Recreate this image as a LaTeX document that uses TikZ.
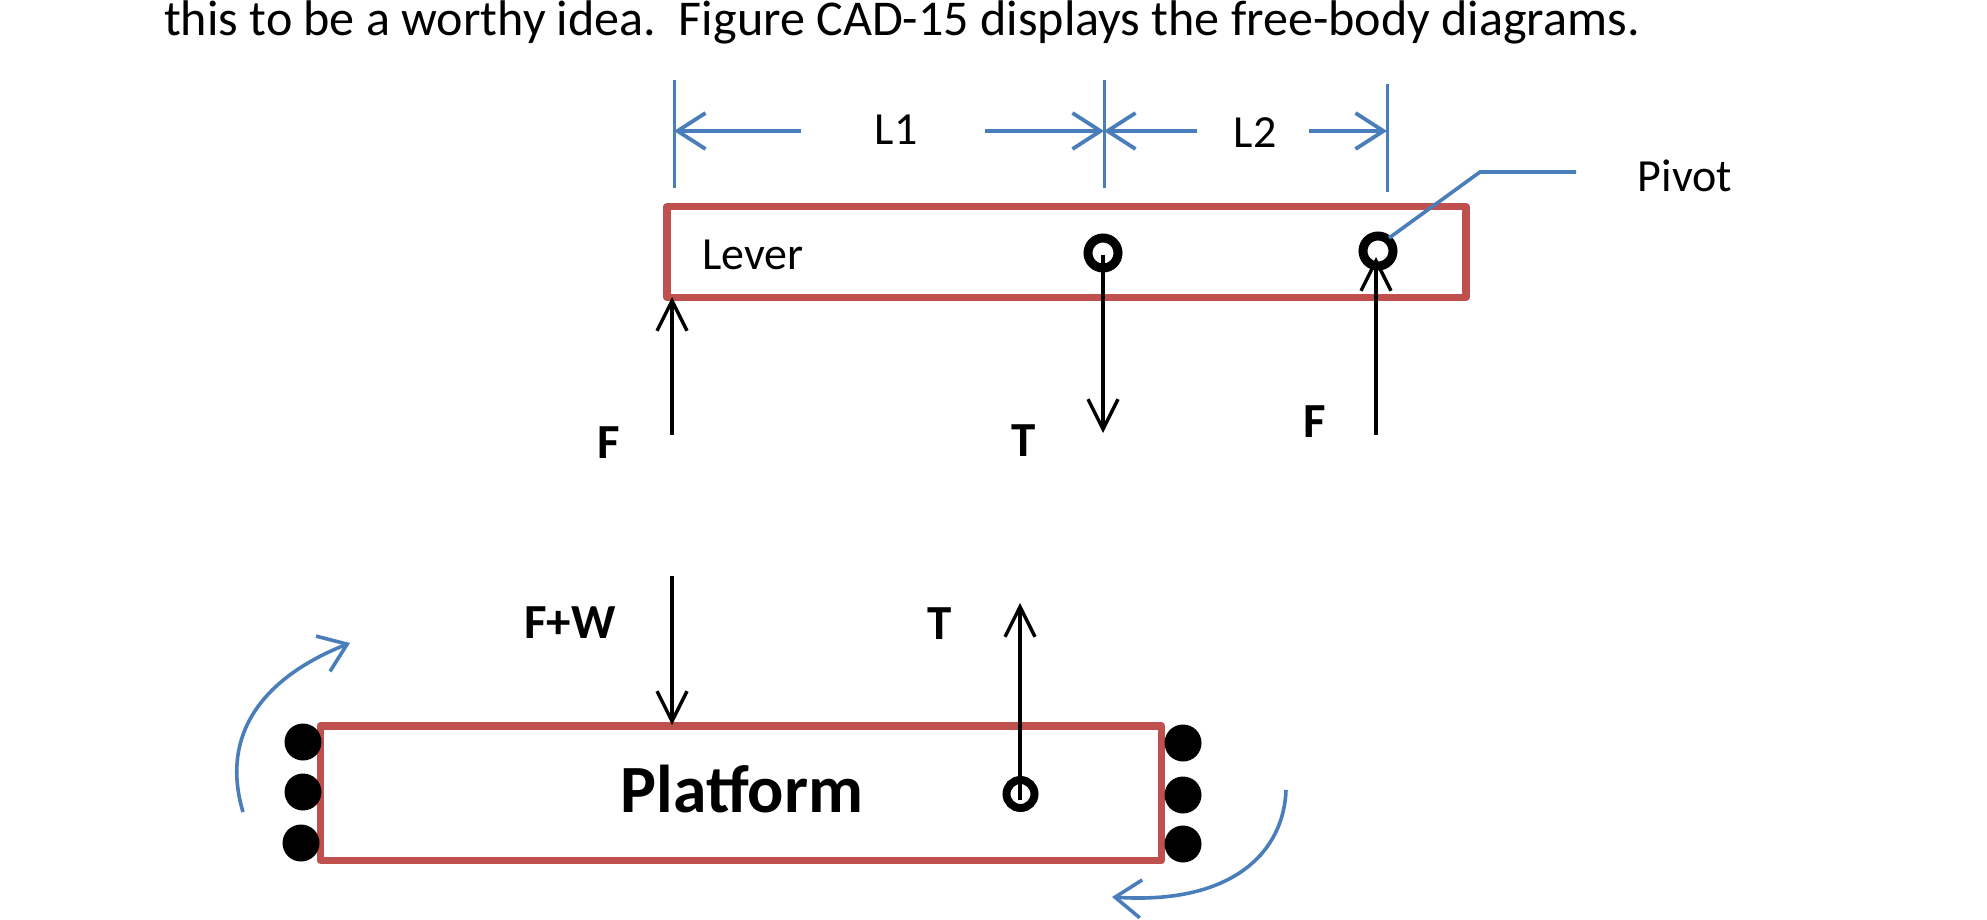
\documentclass[tikz,border=0pt]{standalone}
\usepackage{fontspec}
\setmainfont{Carlito}
\usetikzlibrary{arrows.meta}
\definecolor{barred}{HTML}{C0504D}
\definecolor{dimblue}{HTML}{4A7EBB}
\begin{document}
\begin{tikzpicture}[x=1pt,y=-1pt]
\tikzstyle{barra} = [draw=barred,line width=7.5pt,line join=round,inner sep=0pt]
\tikzstyle{freccia} = [black,line width=3.2pt,-{Straight Barb[length=30pt,width=30pt,line width=3.4pt]}]
\tikzstyle{quota} = [dimblue,line width=4.5pt,-{Straight Barb[length=28pt,width=36pt,line width=3.8pt]}]
\tikzstyle{giro} = [dimblue,line width=3.6pt,-{Straight Barb[length=26pt,width=38pt,line width=3.6pt]}]
\tikzstyle{guida} = [dimblue,line width=3pt]
\tikzstyle{perno} = [circle,draw=black,line width=9pt,inner sep=0pt,minimum size=30pt]
\tikzstyle{rullo} = [circle,fill=black,inner sep=0pt,minimum size=37pt]
\tikzstyle{forza} = [font=\bfseries\fontsize{49}{58}\selectfont,inner sep=0pt]
\tikzstyle{testo} = [font=\fontsize{46}{55}\selectfont,inner sep=0pt]
\useasboundingbox (0,0) rectangle (1987,920);
\node[testo,anchor=base west,font=\fontsize{50.1}{60}\selectfont] (intro) at (164,36) {this to be a worthy idea.\ \ Figure CAD-15 displays the free-body diagrams.};
% the two bars
\node[barra,minimum width=799pt,minimum height=90.5pt] (lever) at (1066.5,252) {};
\node[barra,minimum width=841pt,minimum height=134.5pt] (platform) at (740.75,793) {};
\node[testo,anchor=west] (leverlab) at (702,255) {Lever};
\node[inner sep=0pt,font=\bfseries\fontsize{67.6}{80}\selectfont] (platlab) at (742,789) {Platform};
% pins
\node[perno] (p1) at (1103,253) {};
\node[perno] (p2) at (1378,251) {};
\node[perno,line width=8pt,minimum size=28pt] (p3) at (1020.5,794) {};
% rollers
\foreach \n/\x/\y in {a/303/742,b/303/792,c/301/843,d/1183/743,e/1183/795,f/1183/844}
  \node[rullo] (r\n) at (\x,\y) {};
% dimension lines
\coordinate (d1t) at (674,80);
\coordinate (d1b) at (674,188);
\coordinate (d2t) at (1104,80);
\coordinate (d2b) at (1104,188);
\coordinate (d3t) at (1387,84);
\coordinate (d3b) at (1387,192);
\draw[guida] (d1t) -- (d1b);
\draw[guida] (d2t) -- (d2b);
\draw[guida] (d3t) -- (d3b);
\node[testo] (l1) at (896,130) {L1};
\node[testo] (l2) at (1255,133) {L2};
\coordinate (a1) at (674,131);
\coordinate (a2) at (801,131);
\coordinate (a3) at (985,131);
\coordinate (a4) at (1104,131);
\coordinate (a5) at (1197,131);
\coordinate (a6) at (1309,131);
\coordinate (a7) at (1387,131);
\draw[quota] (a2) -- (a1);
\draw[quota] (a3) -- (a4);
\draw[quota] (a5) -- (a4);
\draw[quota] (a6) -- (a7);
% pivot leader
\node[testo] (pivot) at (1685,176) {Pivot};
\coordinate (g1) at (1389,238);
\coordinate (g2) at (1480,172);
\coordinate (g3) at (1576,172);
\draw[guida,line width=3.6pt] (g1) -- (g2) -- (g3);
% forces on the lever
\coordinate (f1a) at (672,435);
\coordinate (f1b) at (672,297);
\coordinate (f2a) at (1103,255);
\coordinate (f2b) at (1103,433);
\coordinate (f3a) at (1376,435);
\coordinate (f3b) at (1376,257);
\draw[freccia] (f1a) -- (f1b);
\draw[freccia] (f2a) -- (f2b);
\draw[freccia] (f3a) -- (f3b);
\node[forza] (lf) at (609,443) {F};
\node[forza] (lt) at (1024,441) {T};
\node[forza] (rf) at (1315,422) {F};
% forces on the platform
\coordinate (f4a) at (672,576);
\coordinate (f4b) at (672,725);
\coordinate (f5a) at (1020,800);
\coordinate (f5b) at (1020,603);
\draw[freccia] (f4a) -- (f4b);
\draw[freccia] (f5a) -- (f5b);
\node[forza] (fw) at (570,623) {F+W};
\node[forza] (pt) at (940,624) {T};
% rotation arrows
\coordinate (c1) at (243,812);
\coordinate (c2) at (350,643);
\coordinate (c3) at (1286,790);
\coordinate (c4) at (1112,897);
\draw[giro] (c1) .. controls (220,735) and (262,678) .. (c2);
\draw[giro] (c3) .. controls (1284,850) and (1235,905) .. (c4);
\end{tikzpicture}
\end{document}
